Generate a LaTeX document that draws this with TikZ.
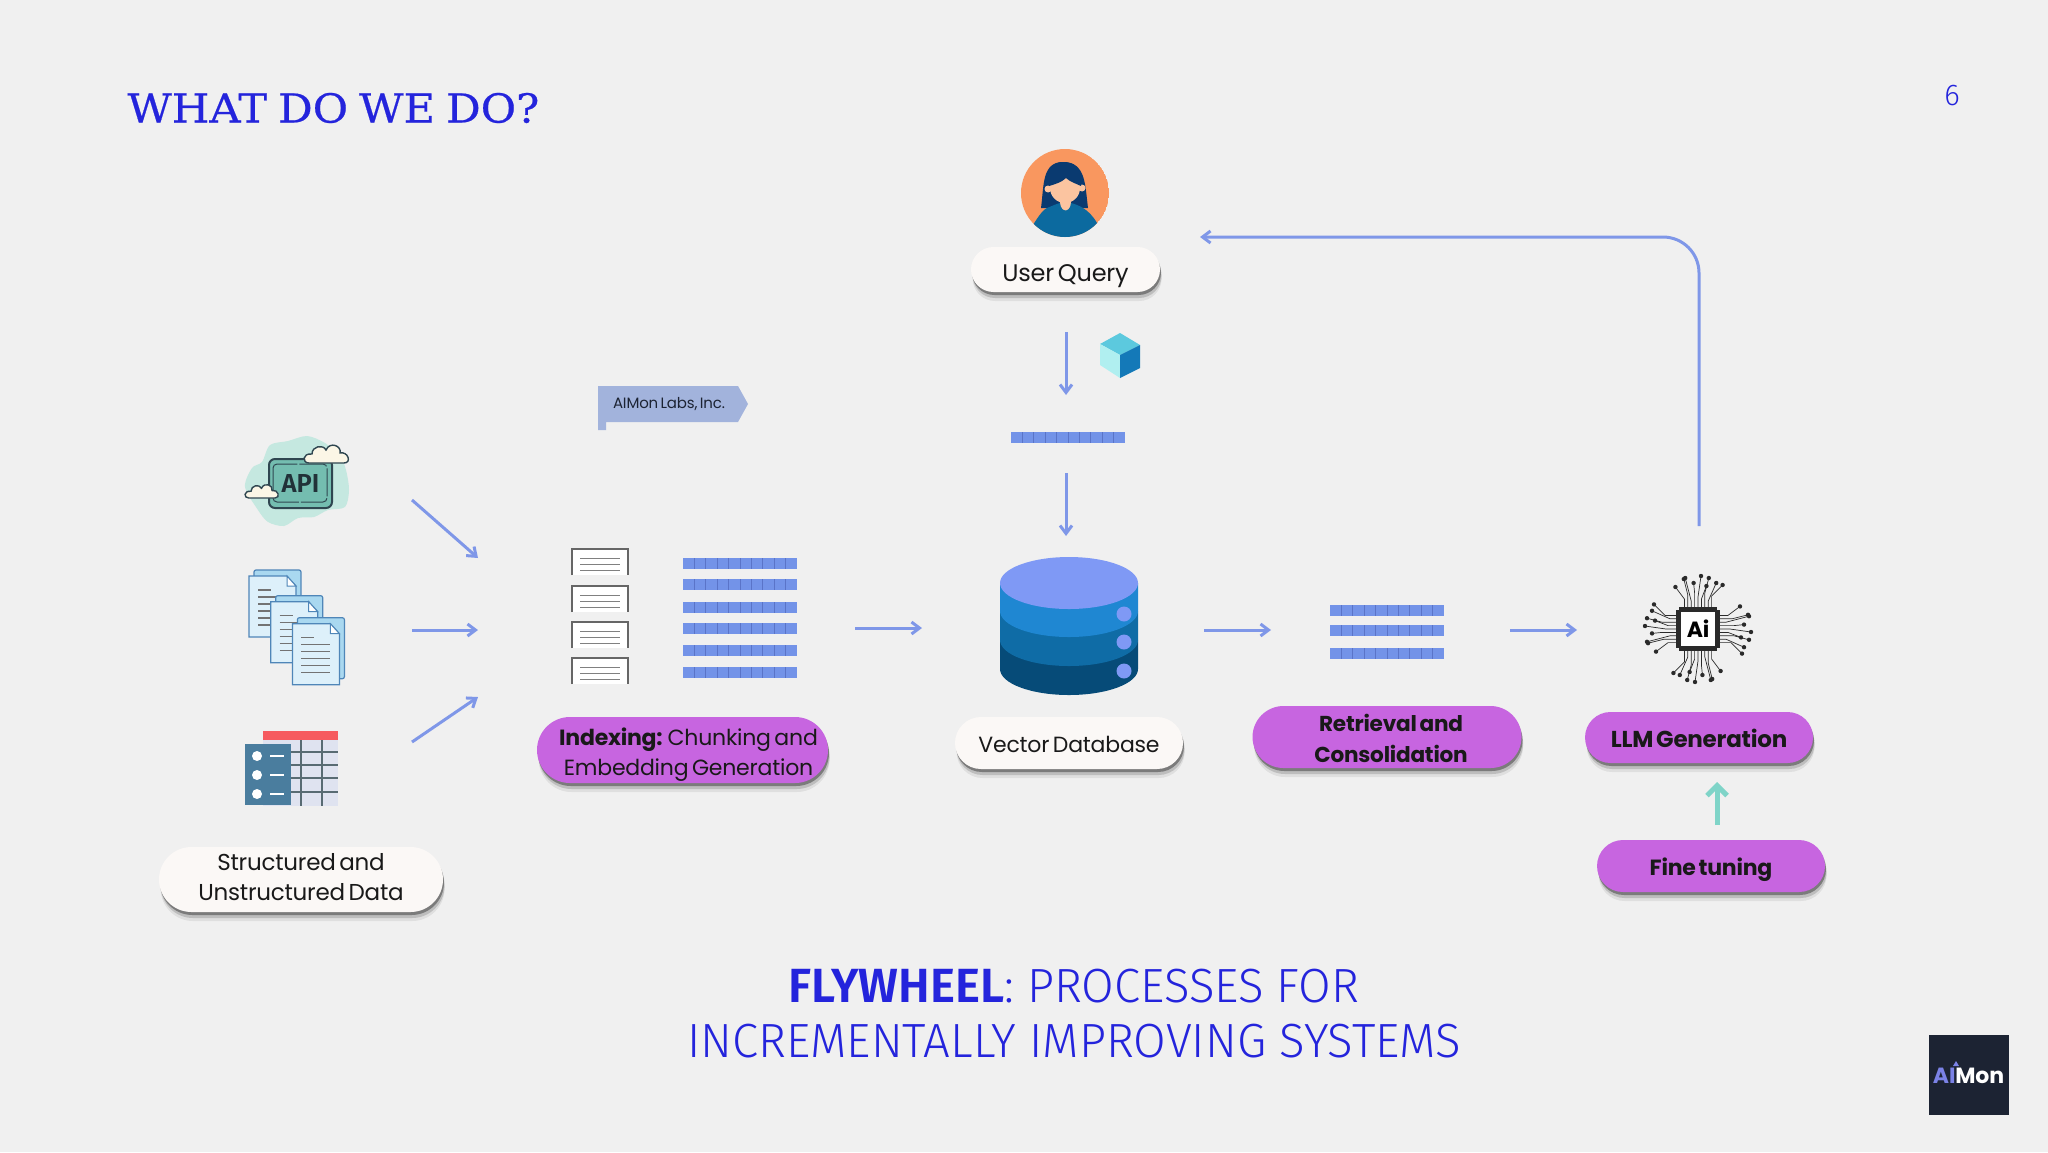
\documentclass[tikz,border=0pt]{standalone}
\usepackage{fontspec}
\usetikzlibrary{arrows.meta,shapes.misc,shadows}
\newfontfamily\pillfont[WordSpace=0.6,LetterSpace=-1]{Poppins}
\newfontfamily\titlefont[FakeStretch=1.08,FakeBold=0.5,WordSpace=0.8]{DejaVu Serif}
\newfontfamily\bottomfont[FakeStretch=0.985,BoldFont={Fira Sans SemiBold}]{Fira Sans Light}

\definecolor{pagebg}{HTML}{F0F0F0}
\definecolor{inkblue}{HTML}{2424DC}
\definecolor{flowblue}{HTML}{7F97E8}
\definecolor{flowteal}{HTML}{7FD4C8}
\definecolor{pillpurple}{HTML}{C765E0}
\definecolor{pillwhite}{HTML}{FBF8F6}
\definecolor{barblue}{HTML}{7393E8}
\definecolor{barline}{HTML}{5A74C8}
\definecolor{traceblack}{HTML}{2A2A2A}
\definecolor{slate}{HTML}{2F4650}
\definecolor{paleblue}{HTML}{A9D8F0}
\definecolor{pagewhite}{HTML}{DDF0FA}
\definecolor{docedge}{HTML}{4F86B8}
\definecolor{logodark}{HTML}{1C2333}
\definecolor{logoblue}{HTML}{7B82E6}
\definecolor{avatarbg}{HTML}{F9975F}
\definecolor{hairblue}{HTML}{0A3A70}
\definecolor{faceskin}{HTML}{FBC4A0}
\definecolor{shirtblue}{HTML}{0C6A9F}
\definecolor{cubetop}{HTML}{5CC9DE}
\definecolor{cubeleft}{HTML}{B0EFF0}
\definecolor{cuberight}{HTML}{1479B8}
\definecolor{dbtop}{HTML}{7F99F5}
\definecolor{dblight}{HTML}{1F87D2}
\definecolor{dbmid}{HTML}{0F6CA6}
\definecolor{dbdark}{HTML}{064B78}
\definecolor{bannerblue}{HTML}{A2B3DC}
\definecolor{blobteal}{HTML}{C5E8E0}
\definecolor{chipteal}{HTML}{74BDB0}
\definecolor{gridpale}{HTML}{DFE3F0}
\definecolor{tablered}{HTML}{F65A5F}
\definecolor{tablepanel}{HTML}{4A7D9E}
\definecolor{puffcream}{HTML}{FBF6E6}

% pill text that sits off the middle of its pill
\newcommand{\pilltext}[3][0pt]{\makebox[0pt]{\hspace*{#1}\raisebox{#2}[\height][\depth]{\begin{tabular}{@{}c@{}}#3\end{tabular}}}}

\tikzset{
	flow/.style={draw=flowblue,line width=1.5pt,-{Straight Barb[length=4pt,width=6pt]}},
	pill/.style={rounded rectangle,inner sep=0pt,font=\pillfont\fontsize{11}{15}\selectfont,align=center,text=black!90,
		drop shadow={shadow xshift=.8pt,shadow yshift=-4.5pt,fill=black,opacity=.07},
		drop shadow={shadow xshift=.8pt,shadow yshift=-3pt,fill=black,opacity=.15},
		drop shadow={shadow xshift=.5pt,shadow yshift=-1.5pt,fill=black,opacity=.35}},
	whitepill/.style={pill,fill=pillwhite},
	purplepill/.style={pill,fill=pillpurple},
	vecbar/.pic={
		\fill[barblue] (0,0) rectangle (114,11);
		\foreach \i in {1,...,9}
			\draw[barline,line width=.35pt] (11.4*\i,0) -- ++(0,11);
	},
	chunk/.pic={
		\fill[white] (0,0) rectangle (56,26);
		\draw[black!60,line width=.6pt] (0,26) -- (0,0) -- (56,0) -- (56,26);
		\foreach \l in {9.5,15.5,21.5}
			\draw[black!50,line width=.5pt] (8,\l) -- (48,\l);
	},
	sheet/.pic={
		\fill[paleblue] (5,-6) rectangle (52,55);
		\draw[docedge,line width=.6pt,rounded corners=1pt] (5,-6) rectangle (52,55);
		\filldraw[draw=docedge,fill=pagewhite,line width=.6pt] (0,0) -- (38,0) -- (47,10) -- (47,61) -- (0,61) -- cycle;
		\draw[docedge,line width=.5pt,fill=white] (38,0) -- (38,10) -- (47,10) -- cycle;
		\foreach \l in {21,28,35,42,49}
			\draw[black!55,line width=.6pt] (9,\l) -- (38,\l);
		\draw[black!55,line width=.6pt] (9,14) -- (22,14);
	},
	puff/.pic={
		\draw[slate,line width=.7pt,fill=puffcream] (-19,8) .. controls (-26,8) and (-26,-2) .. (-16,-1) .. controls (-16,-9) and (-5,-11) .. (-2,-5) .. controls (2,-14) and (14,-9) .. (12,-2) .. controls (20,-4) and (24,8) .. (16,8) -- cycle;
	}
}

\begin{document}
\begin{tikzpicture}[x=0.5pt,y=-0.5pt]
	
	\fill[pagebg] (0,0) rectangle (2048,1152);
	\useasboundingbox (0,0) rectangle (2048,1152);
	
	% header and footer
	\node (heading) [anchor=west,inner sep=0pt,text=inkblue,font=\titlefont\fontsize{20}{24}\selectfont] at (127,108) {WHAT DO WE DO?};
	\node (pageno) [inner sep=0pt,text=inkblue,font=\bottomfont\fontsize{15}{18}\selectfont] at (1952,96) {6};
	\node (flywheel) [inner sep=0pt,align=center,text=inkblue,font=\bottomfont\fontsize{24}{27.5}\selectfont] at (1074,1014) {\textbf{FLYWHEEL}: PROCESSES FOR\\INCREMENTALLY IMPROVING SYSTEMS};
	
	% logo
	\node (logo) [fill=logodark,minimum size=40pt,inner sep=0pt] at (1968.5,1075) {};
	\node (logotext) [inner sep=0pt,font=\pillfont\bfseries\fontsize{11}{12}\selectfont,text=white] at (1968.5,1076) {\textcolor{logoblue}{AI}Mon};
	\fill[logoblue] (1953,1066) -- (1956,1061) -- (1959,1066) -- cycle;
	
	% data sources
	\fill[blobteal] plot[smooth cycle] coordinates {(245,487) (252,468) (262,462) (270,445) (288,441) (307,436) (325,443) (340,456) (346,470) (349,490) (345,507) (328,510) (314,517) (298,518) (284,526) (268,522) (258,510)};
	\node (apichip) [draw=slate,line width=1pt,fill=chipteal,rounded corners=3pt,minimum width=31.5pt,minimum height=24.5pt,inner sep=0pt,text=slate!70!black,font=\bottomfont\bfseries\fontsize{13}{14}\selectfont] at (300.5,483.5) {API};
	\draw[slate,line width=.5pt,dash pattern=on 14pt off 1pt,rounded corners=2pt] (273,464) rectangle (327,502);
	\pic at (328,455) {puff};
	\pic[scale=.75] at (263,492) {puff};
	
	\foreach \dx/\dy in {0/0,21.7/25.7,43.4/47.7}
		\pic at (249+\dx,576+\dy) {sheet};
	
	\fill[gridpale] (263,740) rectangle (338,806);
	\fill[tablered] (263,731) rectangle (338,740);
	\foreach \l in {752,765,778,792}
		\draw[slate!80,line width=1pt] (263,\l) -- (338,\l);
	\foreach \l in {301,322}
		\draw[slate!80,line width=1pt] (\l,740) -- (\l,806);
	\fill[tablepanel] (245,744) rectangle (291,805);
	\foreach \l in {756,775,794} {
		\fill[white] (257,\l) circle (2.5pt);
		\draw[white,line width=1pt] (270,\l) -- (284,\l);
	}
	
	\node (structured) [whitepill,minimum width=142pt,minimum height=32.5pt,font=\pillfont\fontsize{11.5}{15}\selectfont] at (301,879.5) {\pilltext{0pt}{Structured and\\Unstructured Data}};
	
	% chunks and embeddings
	\foreach \y in {549,586,622,658}
		\pic at (572,\y) {chunk};
	\foreach \y in {558,579,602,623,645,667}
		\pic at (683,\y) {vecbar};
	\node (indexing) [purplepill,minimum width=145.5pt,minimum height=33pt] at (682.5,750) {\pilltext[6pt]{-2pt}{\textbf{Indexing:} Chunking and\\Embedding Generation}};
	
	% banner
	\fill[bannerblue] (598,386) -- (738,386) -- (748,404) -- (738,422) -- (606,422) -- (606,430) -- (598,430) -- cycle;
	\node (banner) [inner sep=0pt,font=\pillfont\fontsize{7.5}{9}\selectfont,text=logodark] at (669,404) {AIMon Labs, Inc.};
	
	% user
	\begin{scope}
		\clip (1065,193) circle (44);
		\fill[avatarbg] (1065,193) circle (44);
		\fill[hairblue] (1041,208) .. controls (1044,185) and (1042,162) .. (1063,162) .. controls (1086,162) and (1085,185) .. (1088,208) -- cycle;
		\fill[faceskin] (1048,189) circle (3.5);
		\fill[faceskin] (1082,188) circle (3.5);
		\fill[faceskin] (1065,188) ellipse[x radius=15,y radius=15];
		\fill[faceskin] (1060,200) rectangle (1071,212);
		\fill[hairblue] (1049,186) .. controls (1056,184) and (1062,182) .. (1066,178) .. controls (1070,182) and (1077,184) .. (1081,186) .. controls (1082,168) and (1075,162) .. (1063,162) .. controls (1052,162) and (1048,170) .. (1049,186);
		\fill[shirtblue] (1033,225) .. controls (1039,215) and (1044,209) .. (1047,208) .. controls (1052,206) and (1056,204) .. (1060,203) .. controls (1061,213) and (1070,213) .. (1071,203) .. controls (1075,204) and (1080,206) .. (1083,208) .. controls (1088,211) and (1093,216) .. (1097,223) -- (1097,240) -- (1033,240) -- cycle;
	\end{scope}
	\node (userquery) [whitepill,minimum width=94.5pt,minimum height=22.5pt,font=\pillfont\fontsize{12}{15}\selectfont] at (1065.5,269.5) {\pilltext{-3pt}{User Query}};
	
	% cube
	\fill[cubetop] (1120,333) -- (1140,345) -- (1120,355) -- (1100,344) -- cycle;
	\fill[cubeleft] (1100,344) -- (1120,355) -- (1120,378) -- (1100,365) -- cycle;
	\fill[cuberight] (1140,345) -- (1120,355) -- (1120,378) -- (1140,368) -- cycle;
	
	\pic at (1011,432) {vecbar};
	
	% database
	\fill[dbdark] (1000,669) arc[start angle=180,end angle=360,x radius=69,y radius=-26] -- (1138,640) -- (1000,640) -- cycle;
	\fill[dbmid] (1000,640) arc[start angle=180,end angle=360,x radius=69,y radius=-26] -- (1138,611) -- (1000,611) -- cycle;
	\fill[dblight] (1000,611) arc[start angle=180,end angle=360,x radius=69,y radius=-26] -- (1138,583) -- (1000,583) -- cycle;
	\fill[dbtop] (1069,583) ellipse[x radius=69,y radius=26];
	\foreach \y in {614,642,671}
		\fill[dbtop] (1124,\y) circle (7.5);
	\node (vectordb) [whitepill,minimum width=114pt,minimum height=26pt] at (1069,743) {\pilltext{-1.9pt}{Vector Database}};
	
	% retrieval
	\foreach \y in {605,625,648}
		\pic at (1330,\y) {vecbar};
	\node (retrieval) [purplepill,minimum width=134.5pt,minimum height=31pt,font=\pillfont\bfseries\fontsize{10.8}{15.5}\selectfont] at (1387,737) {\pilltext[4pt]{-1.9pt}{Retrieval and\\Consolidation}};
	
	% chip
	\begin{scope}[shift={(1698,629)}]
		\foreach \r in {0,90,180,270}
			\begin{scope}[rotate=\r]
				\foreach \i/\l/\e/\o in {-4/30/-9/5,-3/34/-4/9,-2/28/-6/16,-1/36/-1/3,0/32/3/14,1/30/5/6,2/36/4/8,3/28/8/11,4/33/11/4} {
					\draw[traceblack,line width=.35pt] (20,\i*3.4) -- (\l,\i*3.4) -- (\l+\o+7,\i*3.4+\e);
					\fill[traceblack] (\l+\o+7,\i*3.4+\e) circle (2.2);
				}
			\end{scope}
		\fill[traceblack] (-19,-22) rectangle (19,22);
		\fill[traceblack] (-22,-19) rectangle (22,19);
		\fill[white] (-17,-17) rectangle (17,17);
	\end{scope}
	\node (aichip) [inner sep=0pt,font=\pillfont\bfseries\fontsize{11}{12}\selectfont] at (1698,629) {Ai};
	\node (llmgen) [purplepill,minimum width=114pt,minimum height=25.5pt,font=\pillfont\bfseries\fontsize{11.5}{12}\selectfont] at (1699,737.5) {\pilltext{-2.2pt}{LLM Generation}};
	\node (finetuning) [purplepill,minimum width=114pt,minimum height=26pt,font=\pillfont\bfseries\fontsize{11}{12}\selectfont] at (1711,866) {\pilltext{-2pt}{Fine tuning}};
	
	% arrow ends
	\coordinate (apiout) at (412,500);
	\coordinate (apiin) at (478,558);
	\coordinate (docsout) at (412,630);
	\coordinate (docsin) at (478,630);
	\coordinate (tableout) at (412,742);
	\coordinate (tablein) at (478,697);
	\coordinate (chunkout) at (855,628);
	\coordinate (dbin) at (922,628);
	\coordinate (dbout) at (1204,630);
	\coordinate (retrin) at (1271,630);
	\coordinate (retrout) at (1510,630);
	\coordinate (chipin) at (1577,630);
	\coordinate (chipout) at (1699,526);
	\coordinate (chipturn) at (1699,237);
	\coordinate (queryin) at (1200,237);
	\coordinate (queryout) at (1066,332);
	\coordinate (barin) at (1066,395);
	\coordinate (barout) at (1066,473);
	\coordinate (dbtopin) at (1066,536);
	\coordinate (tuneout) at (1717,825);
	\coordinate (tunein) at (1717,782);
	
	\draw[flow] (apiout) -- (apiin);
	\draw[flow] (docsout) -- (docsin);
	\draw[flow] (tableout) -- (tablein);
	\draw[flow] (chunkout) -- (dbin);
	\draw[flow] (dbout) -- (retrin);
	\draw[flow] (retrout) -- (chipin);
	\draw[flow,rounded corners=18pt] (chipout) -- (chipturn) -- (queryin);
	\draw[flow] (queryout) -- (barin);
	\draw[flow] (barout) -- (dbtopin);
	\draw[draw=flowteal,line width=2.5pt,-{Straight Barb[length=5pt,width=10pt]}] (tuneout) -- (tunein);
	
\end{tikzpicture}
\end{document}
